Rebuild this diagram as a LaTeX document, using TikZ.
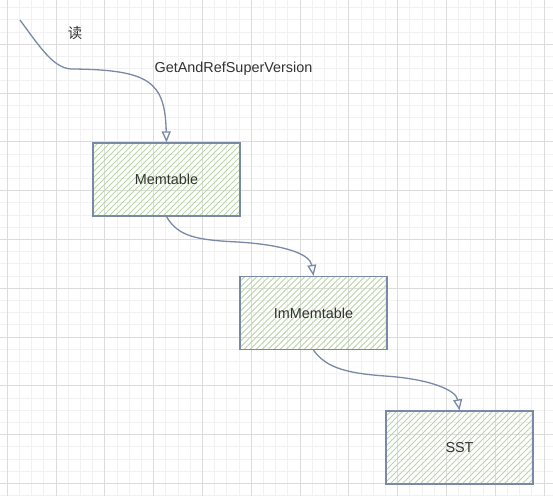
\documentclass[tikz,border=0pt]{standalone}
\usepackage{fontspec}
\setmainfont{Liberation Sans}
\newfontfamily\cjk{Noto Sans CJK SC}
\usetikzlibrary{arrows.meta}
\definecolor{strokec}{HTML}{7A89A6}
\definecolor{hatchc}{HTML}{B9D6A9}
\definecolor{textc}{HTML}{333333}
\definecolor{majorc}{HTML}{DCDCDC}
\definecolor{minorc}{HTML}{F1F1F1}
\tikzset{
  minorline/.style={minorc, line width=1pt},
  majorline/.style={majorc, line width=1pt},
  hatchline/.style={hatchc, line width=0.8pt},
  labeltext/.style={text=textc, font=\fontsize{14.4}{17}\selectfont, inner sep=0pt},
  hatchbox/.style={draw=strokec, line width=1.3pt, minimum width=147pt, minimum height=73pt,
    inner sep=0pt, text=textc, font=\fontsize{14.4}{17}\selectfont,
    path picture={
      \foreach \k in {0,6,...,246}{
        \draw[hatchline] ([xshift=\k pt-80pt]path picture bounding box.south west) -- ++(160pt,160pt);
      }
    }},
  flow/.style={strokec, line width=1.3pt, -{Triangle[open,length=11pt,width=9pt]}}
}
\begin{document}
\begin{tikzpicture}[x=1pt,y=-1pt]
\useasboundingbox (0,0) rectangle (553,496);
\fill[white] (0,0) rectangle (553,496);
% grid
\foreach \k in {-1,...,45}{
  \pgfmathsetmacro\xx{7.3+12.2*\k}
  \draw[minorline] (\xx,0) -- (\xx,496);
}
\foreach \k in {-4,...,37}{
  \pgfmathsetmacro\yy{44.3+12.2*\k}
  \draw[minorline] (0,\yy) -- (553,\yy);
}
\foreach \k in {0,...,11}{
  \pgfmathsetmacro\xx{7.3+48.8*\k}
  \draw[majorline] (\xx,0) -- (\xx,496);
}
\foreach \k in {-1,...,9}{
  \pgfmathsetmacro\yy{44.3+48.8*\k}
  \draw[majorline] (0,\yy) -- (553,\yy);
}
% boxes
\node[hatchbox] (m) at (166.5,179.5) {Memtable};
\node[hatchbox] (im) at (313.5,313) {ImMemtable};
\node[hatchbox] (sst) at (459.5,447.5) {SST};
% labels
\node[labeltext] (du) at (75,33) {\cjk 读};
\node[labeltext] (gl) at (233.5,69) {GetAndRefSuperVersion};
% connectors
\coordinate (s) at (20,20);
\draw[flow] (s) .. controls (42,50) and (55,70) .. (74,69)
  .. controls (150,70) and (165,82) .. (m.north);
\draw[flow] (m.south) .. controls (178,236) and (195,240) .. (238,242)
  .. controls (285,245) and (310,254) .. (im.north);
\draw[flow] (im.south) .. controls (325,366) and (342,373) .. (385,376)
  .. controls (430,379) and (456,390) .. (sst.north);
\end{tikzpicture}
\end{document}
